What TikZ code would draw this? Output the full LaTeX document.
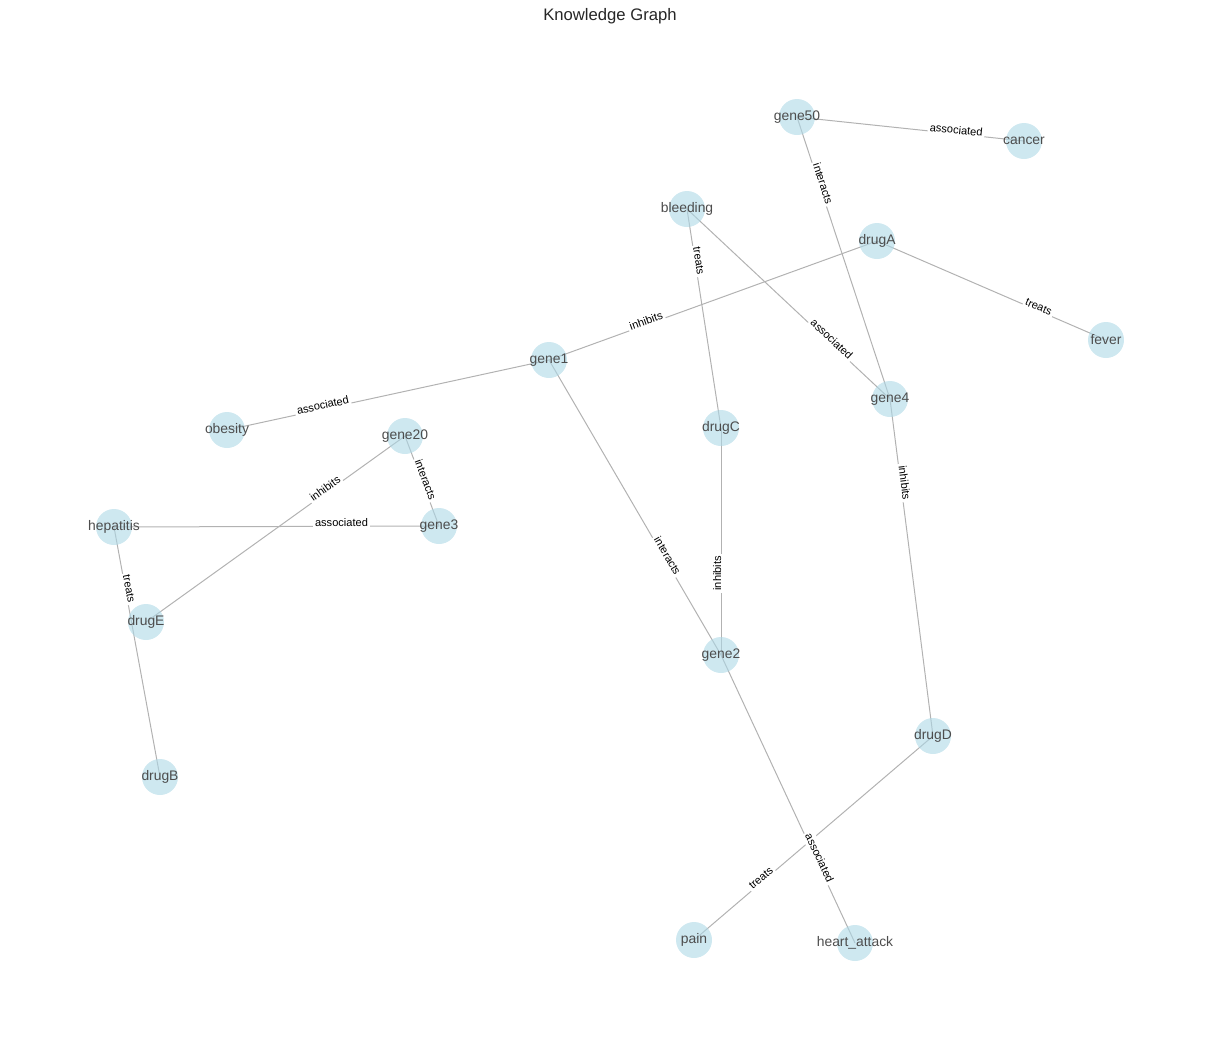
\documentclass[tikz,border=0pt]{standalone}
\usepackage{fontspec}
\setmainfont{Liberation Sans}
\usetikzlibrary{backgrounds}
\definecolor{lightblue}{HTML}{ADD8E6}
\definecolor{titlecol}{HTML}{262626}
\definecolor{nlabcol}{HTML}{4D4D4D}
\begin{document}
\begin{tikzpicture}[x=0.75pt,y=-0.75pt,
  nd/.style={circle, fill=lightblue, fill opacity=0.6, draw=none, minimum size=27pt, inner sep=0pt},
  nlab/.style={text=nlabcol, text opacity=1, font=\fontsize{10.4}{12}\selectfont, inner sep=0pt},
  edge/.style={draw=gray!60, line width=0.75pt},
  elab/.style={sloped, anchor=base, fill=white, inner sep=1.5pt, text depth=1pt, text=black, font=\fontsize{8.3}{10}\selectfont}]
\useasboundingbox (0,0) rectangle (1220,1040);
\node[font=\fontsize{12.5}{15}\selectfont, text=titlecol] (title) at (610,16) {Knowledge Graph};

% nodes
\node[nd] (gene50) at (797,117) {};
\node[nd] (cancer) at (1024,141) {};
\node[nd] (bleeding) at (687,209) {};
\node[nd] (drugA) at (877,241) {};
\node[nd] (fever) at (1106,340) {};
\node[nd] (gene1) at (549,360) {};
\node[nd] (gene4) at (890,399) {};
\node[nd] (obesity) at (227,430) {};
\node[nd] (gene20) at (405,436) {};
\node[nd] (drugC) at (721,428) {};
\node[nd] (hepatitis) at (114,527) {};
\node[nd] (gene3) at (439,526) {};
\node[nd] (drugE) at (146,622) {};
\node[nd] (gene2) at (721,655) {};
\node[nd] (drugD) at (933,736) {};
\node[nd] (drugB) at (160,777) {};
\node[nd] (pain) at (694,940) {};
\node[nd] (heart_attack) at (855,943) {};

% node labels
\node[nlab] (t-gene50) at (gene50) {gene50};
\node[nlab] (t-cancer) at (cancer) {cancer};
\node[nlab] (t-bleeding) at (bleeding) {bleeding};
\node[nlab] (t-drugA) at (drugA) {drugA};
\node[nlab] (t-fever) at (fever) {fever};
\node[nlab] (t-gene1) at (gene1) {gene1};
\node[nlab] (t-gene4) at (gene4) {gene4};
\node[nlab] (t-obesity) at (obesity) {obesity};
\node[nlab] (t-gene20) at (gene20) {gene20};
\node[nlab] (t-drugC) at (drugC) {drugC};
\node[nlab] (t-hepatitis) at (hepatitis) {hepatitis};
\node[nlab] (t-gene3) at (gene3) {gene3};
\node[nlab] (t-drugE) at (drugE) {drugE};
\node[nlab] (t-gene2) at (gene2) {gene2};
\node[nlab] (t-drugD) at (drugD) {drugD};
\node[nlab] (t-drugB) at (drugB) {drugB};
\node[nlab] (t-pain) at (pain) {pain};
\node[nlab] (t-heart) at (heart_attack) {heart\_attack};

% edges
\begin{scope}[on background layer]
\draw[edge] (gene50.center) -- node[elab,pos=0.7]{associated} (cancer.center);
\draw[edge] (gene50.center) -- node[elab,pos=0.24]{interacts} (gene4.center);
\draw[edge] (bleeding.center) -- node[elab,pos=0.24]{treats} (drugC.center);
\draw[edge] (bleeding.center) -- node[elab,pos=0.7]{associated} (gene4.center);
\draw[edge] (gene1.center) -- node[elab,pos=0.3]{inhibits} (drugA.center);
\draw[edge] (drugA.center) -- node[elab,pos=0.7]{treats} (fever.center);
\draw[edge] (gene1.center) -- node[elab,pos=0.7]{associated} (obesity.center);
\draw[edge] (gene1.center) -- node[elab,pos=0.67]{interacts} (gene2.center);
\draw[edge] (gene20.center) -- node[elab,pos=0.5]{interacts} (gene3.center);
\draw[edge] (gene20.center) -- node[elab,pos=0.3]{inhibits} (drugE.center);
\draw[edge] (hepatitis.center) -- node[elab,pos=0.7]{associated} (gene3.center);
\draw[edge] (hepatitis.center) -- node[elab,pos=0.25]{treats} (drugB.center);
\draw[edge] (gene2.center) -- node[elab,pos=0.36]{inhibits} (drugC.center);
\draw[edge] (gene4.center) -- node[elab,pos=0.25]{inhibits} (drugD.center);
\draw[edge] (drugD.center) -- node[elab,pos=0.71]{treats} (pain.center);
\draw[edge] (gene2.center) -- node[elab,pos=0.71]{associated} (heart_attack.center);
\end{scope}
\end{tikzpicture}
\end{document}
